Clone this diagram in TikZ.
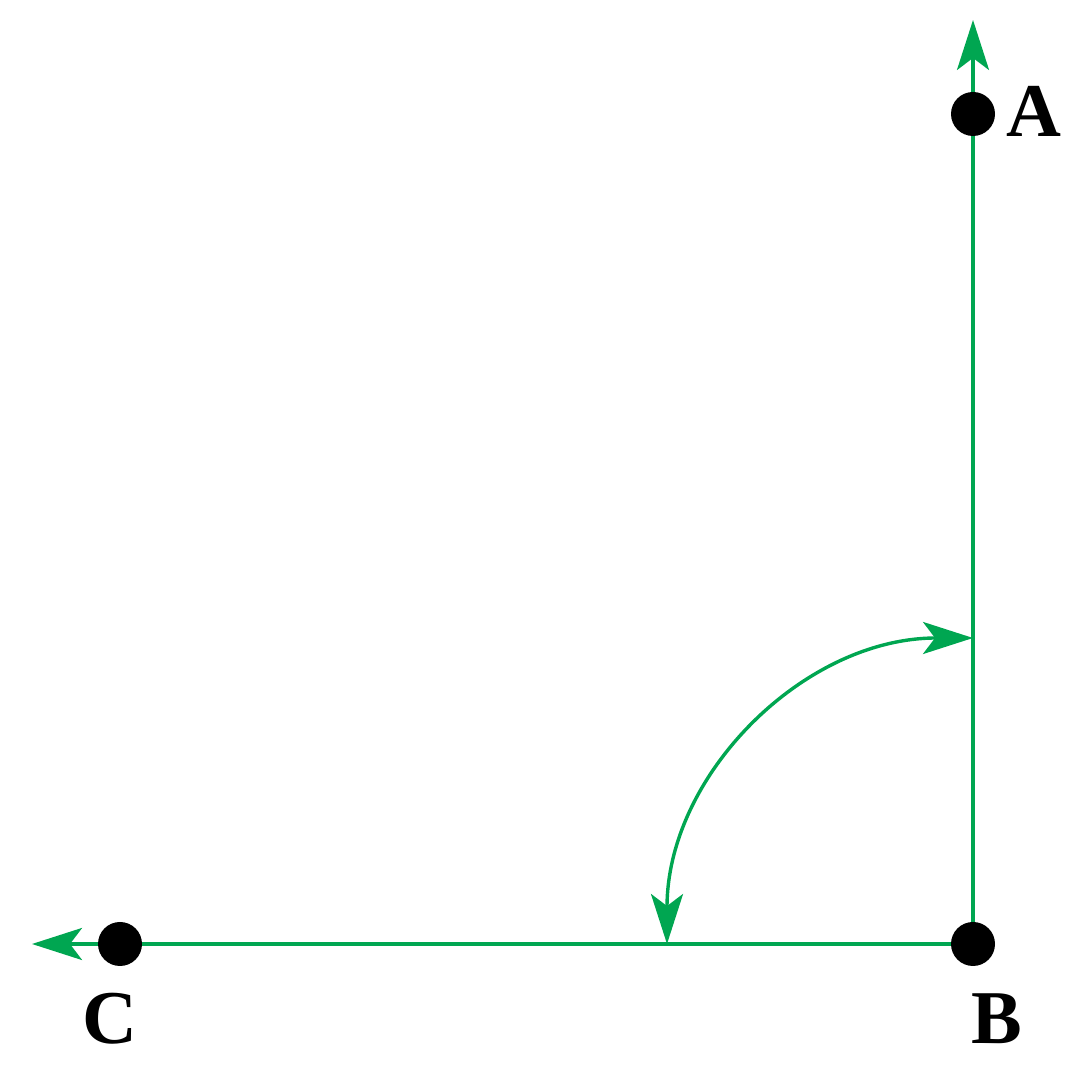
\documentclass[tikz,border=0pt]{standalone}
\usepackage{fontspec}
\setmainfont{Liberation Serif}
\usetikzlibrary{arrows.meta}
\definecolor{raygreen}{RGB}{0,166,81}
\begin{document}
\begin{tikzpicture}[x=0.5pt,y=0.5pt,
  ray/.style={draw=raygreen,line width=1.7pt},
  tip/.style={-{Stealth[length=25pt,width=16pt,inset=6pt]}},
  dot/.style={circle,fill=black,inner sep=0pt,minimum size=22pt},
  lbl/.style={font=\fontsize{38}{40}\selectfont\bfseries,inner sep=0pt}]
\useasboundingbox (0,0) rectangle (1074,1068);
\coordinate (B) at (973,124);
\coordinate (A) at (973,954);
\coordinate (C) at (120,124);
\coordinate (Aend) at (973,1048);
\coordinate (Cend) at (32,124);
\draw[ray,tip] (B) -- (Aend);
\draw[ray,tip] (B) -- (Cend);
\draw[ray,{Stealth[length=25pt,width=16pt,inset=6pt]}-{Stealth[length=25pt,width=16pt,inset=6pt]}] ([shift={(180:306)}]B) arc[start angle=180,end angle=90,radius=306];
\node[dot] (dA) at (A) {};
\node[dot] (dB) at (B) {};
\node[dot] (dC) at (C) {};
\node[lbl] (lA) at (1034,957) {A};
\node[lbl] (lB) at (997,49) {B};
\node[lbl] (lC) at (110,49) {C};
\end{tikzpicture}
\end{document}
